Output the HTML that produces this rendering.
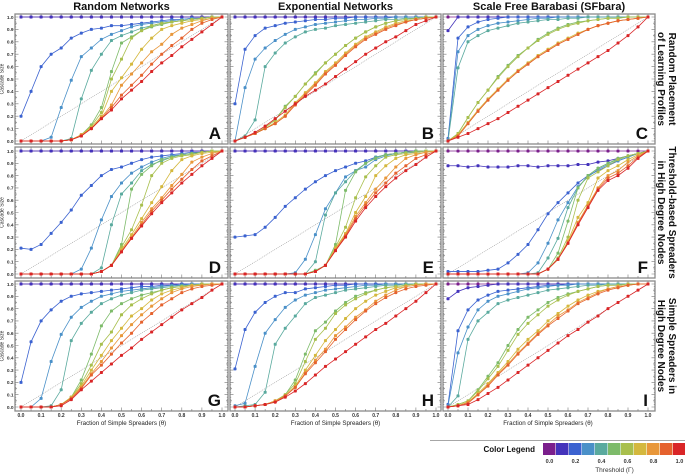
<!DOCTYPE html>
<html><head><meta charset="utf-8"><style>
html,body{margin:0;padding:0;background:#fff;}
svg{display:block;font-family:"Liberation Sans",sans-serif;}
</style></head><body>
<svg id="chart" width="685" height="475" viewBox="0 0 685 475" xmlns="http://www.w3.org/2000/svg"></svg>
<script>
const xValues=[0,0.05,0.1,0.15,0.2,0.25,0.3,0.35,0.4,0.45,0.5,0.55,0.6,0.65,0.7,0.75,0.8,0.85,0.9,0.95,1];
const thresholds=[0,0.1,0.2,0.3,0.4,0.5,0.6,0.7,0.8,0.9,1.0];
const thresholdColors=["#7b1f8c","#4433bb","#3b62d0","#4a90c8","#5aaa9e","#7dbb6a","#a8bf4d","#d4b83e","#e8973a","#e5622e","#d92527"];
const yTickLabels=["0.0","0.1","0.2","0.3","0.4","0.5","0.6","0.7","0.8","0.9","1.0"];
const xTickLabels=["0.0","0.1","0.2","0.3","0.4","0.5","0.6","0.7","0.8","0.9","1.0"];
const ONES=[1,1,1,1,1,1,1,1,1,1,1,1,1,1,1,1,1,1,1,1,1];
const panelA=[ONES,ONES,
[.2,.4,.6,.7,.75,.83,.87,.9,.91,.93,.93,.94,.95,.96,.97,.98,.98,.99,.99,1,1],
[0,0,0,.03,.27,.49,.68,.75,.82,.86,.89,.92,.94,.95,.96,.97,.98,.99,.99,1,1],
[0,0,0,0,0,.02,.34,.57,.70,.81,.85,.88,.91,.93,.95,.96,.97,.98,.99,1,1],
[0,0,0,0,0,.01,.05,.13,.27,.56,.79,.84,.89,.92,.94,.96,.97,.98,.99,1,1],
[0,0,0,0,0,.01,.05,.12,.23,.5,.66,.83,.89,.93,.95,.96,.97,.98,.99,1,1],
[0,0,0,0,0,.01,.05,.11,.2,.4,.51,.62,.74,.83,.9,.93,.95,.97,.98,.99,1],
[0,0,0,0,0,.01,.05,.1,.19,.29,.45,.54,.63,.72,.78,.86,.91,.94,.97,.99,1],
[0,0,0,0,0,.01,.04,.1,.18,.27,.37,.45,.53,.62,.7,.77,.83,.9,.95,.98,1],
[0,0,0,0,0,.01,.04,.1,.18,.25,.34,.41,.48,.56,.63,.69,.76,.82,.88,.94,1]];
const panelB=[ONES,ONES,
[.3,.74,.85,.91,.93,.95,.96,.97,.98,.98,.99,.99,1,1,1,1,1,1,1,1,1],
[0,.43,.66,.75,.81,.86,.9,.92,.94,.95,.96,.97,.98,.98,.99,.99,1,1,1,1,1],
[0,.04,.17,.6,.71,.79,.84,.88,.9,.91,.93,.94,.95,.96,.97,.98,.98,.99,.99,1,1],
[0,.03,.06,.11,.17,.28,.36,.46,.55,.63,.7,.77,.83,.88,.92,.95,.97,.98,.99,1,1],
[0,.03,.06,.11,.17,.27,.36,.46,.54,.63,.7,.77,.83,.88,.92,.95,.97,.98,.99,1,1],
[0,.03,.06,.1,.15,.21,.31,.39,.47,.56,.63,.71,.78,.84,.88,.92,.95,.97,.98,.99,1],
[0,.03,.06,.1,.14,.2,.3,.38,.46,.55,.62,.7,.77,.83,.87,.91,.94,.96,.98,.99,1],
[0,.03,.06,.1,.14,.2,.29,.37,.45,.54,.61,.69,.76,.82,.86,.9,.93,.96,.98,.99,1],
[0,.03,.07,.12,.18,.24,.3,.36,.41,.46,.52,.58,.64,.7,.75,.8,.84,.89,.94,.97,1]];
const panelC=[ONES,
[.89,1,1,1,1,1,1,1,1,1,1,1,1,1,1,1,1,1,1,1,1],
[.02,.83,.92,.96,.98,.99,1,1,1,1,1,1,1,1,1,1,1,1,1,1,1],
[.01,.72,.85,.9,.93,.95,.96,.97,.98,.99,.99,1,1,1,1,1,1,1,1,1,1],
[0,.59,.8,.85,.89,.91,.93,.95,.96,.97,.98,.98,.99,.99,1,1,1,1,1,1,1],
[0,.06,.19,.31,.41,.52,.61,.69,.75,.82,.87,.91,.94,.96,.97,.98,.99,.99,1,1,1],
[0,.06,.19,.31,.41,.51,.6,.68,.75,.81,.86,.9,.93,.95,.97,.98,.99,.99,1,1,1],
[0,.05,.15,.25,.34,.42,.5,.57,.63,.69,.74,.79,.83,.87,.9,.93,.95,.97,.98,.99,1],
[0,.04,.14,.24,.33,.41,.49,.56,.62,.68,.73,.78,.82,.86,.9,.93,.95,.97,.98,.99,1],
[0,.04,.14,.24,.33,.41,.49,.56,.62,.68,.73,.78,.82,.86,.9,.93,.95,.97,.98,.99,1],
[0,.03,.06,.1,.14,.18,.23,.28,.33,.38,.43,.48,.53,.58,.63,.68,.73,.79,.85,.92,1]];
const panelD=[ONES,ONES,
[.21,.2,.24,.33,.42,.52,.64,.72,.8,.85,.87,.9,.93,.95,.96,.97,.98,.99,.99,1,1],
[0,0,0,0,0,0,.04,.21,.44,.63,.74,.82,.87,.91,.94,.96,.97,.98,.99,1,1],
[0,0,0,0,0,0,0,0,.05,.4,.65,.74,.84,.89,.92,.95,.97,.98,.99,1,1],
[0,0,0,0,0,0,0,0,.02,.07,.24,.69,.81,.88,.93,.95,.97,.98,.99,1,1],
[0,0,0,0,0,0,0,0,.02,.07,.22,.36,.56,.8,.9,.94,.96,.97,.99,1,1],
[0,0,0,0,0,0,0,0,.02,.07,.2,.32,.45,.58,.71,.84,.93,.96,.98,.99,1],
[0,0,0,0,0,0,0,0,.02,.07,.19,.3,.42,.53,.62,.72,.81,.91,.95,.98,1],
[0,0,0,0,0,0,0,0,.02,.07,.18,.29,.4,.51,.6,.69,.77,.85,.92,.96,1],
[0,0,0,0,0,0,0,0,.02,.07,.18,.29,.39,.49,.58,.66,.74,.81,.88,.94,1]];
const panelE=[ONES,ONES,
[.3,.31,.32,.38,.46,.55,.62,.69,.75,.8,.84,.87,.9,.92,.95,.97,.98,.99,.99,1,1],
[0,0,0,0,0,0,.01,.12,.32,.53,.66,.79,.84,.87,.93,.96,.98,.99,.99,1,1],
[0,0,0,0,0,0,0,0,.1,.48,.66,.75,.84,.9,.95,.97,.98,.99,1,1,1],
[0,0,0,0,0,0,0,0,.03,.07,.24,.68,.83,.9,.94,.97,.98,.99,1,1,1],
[0,0,0,0,0,0,0,0,.02,.07,.22,.38,.62,.79,.88,.95,.97,.98,.99,1,1],
[0,0,0,0,0,0,0,0,.02,.07,.21,.33,.5,.63,.8,.88,.94,.97,.98,.99,1],
[0,0,0,0,0,0,0,0,.02,.07,.2,.32,.47,.58,.69,.78,.87,.94,.97,.99,1],
[0,0,0,0,0,0,0,0,.02,.07,.19,.31,.45,.56,.66,.74,.82,.88,.94,.97,1],
[0,0,0,0,0,0,0,0,.02,.07,.19,.3,.43,.54,.63,.71,.78,.84,.89,.95,1]];
const panelF=[ONES,
[.88,.88,.87,.88,.87,.87,.87,.88,.88,.87,.88,.88,.88,.89,.89,.91,.92,.94,.96,.98,1],
[.02,.02,.02,.02,.03,.04,.09,.16,.24,.36,.49,.58,.66,.74,.8,.84,.88,.92,.95,.98,1],
[0,0,0,0,0,0,0,0,.01,.09,.25,.44,.58,.71,.79,.85,.89,.92,.95,.98,1],
[0,0,0,0,0,0,0,0,0,.01,.13,.29,.54,.7,.8,.86,.9,.93,.96,.98,1],
[0,0,0,0,0,0,0,0,0,0,.04,.17,.43,.7,.8,.86,.9,.94,.96,.98,1],
[0,0,0,0,0,0,0,0,0,0,.04,.13,.3,.6,.78,.83,.88,.93,.96,.98,1],
[0,0,0,0,0,0,0,0,0,0,.04,.12,.27,.46,.58,.78,.84,.88,.93,.97,1],
[0,0,0,0,0,0,0,0,0,0,.04,.12,.26,.42,.56,.7,.8,.84,.91,.96,1],
[0,0,0,0,0,0,0,0,0,0,.04,.12,.25,.41,.55,.69,.78,.82,.88,.95,1],
[0,0,0,0,0,0,0,0,0,0,.04,.12,.25,.4,.54,.68,.76,.8,.86,.94,1]];
const panelG=[ONES,ONES,
[.2,.53,.7,.79,.86,.9,.92,.93,.94,.95,.96,.97,.98,.98,.99,.99,1,1,1,1,1],
[0,0,.07,.37,.59,.73,.81,.86,.9,.92,.94,.95,.96,.97,.98,.99,.99,1,1,1,1],
[0,0,0,.01,.14,.54,.68,.77,.84,.88,.91,.93,.95,.96,.97,.98,.99,.99,1,1,1],
[0,0,0,0,.02,.08,.22,.43,.66,.78,.84,.88,.91,.93,.95,.97,.98,.99,1,1,1],
[0,0,0,0,.02,.08,.19,.34,.51,.61,.75,.83,.88,.92,.95,.97,.98,.99,1,1,1],
[0,0,0,0,.02,.08,.17,.3,.42,.54,.64,.74,.8,.87,.92,.95,.97,.99,.99,1,1],
[0,0,0,0,.02,.07,.16,.27,.37,.48,.58,.67,.75,.82,.88,.93,.96,.98,.99,1,1],
[0,0,0,0,.02,.07,.15,.26,.34,.43,.52,.6,.69,.76,.83,.88,.93,.96,.98,.99,1],
[0,0,0,0,.01,.06,.14,.21,.28,.35,.42,.48,.55,.61,.67,.73,.79,.84,.89,.95,1]];
const panelH=[ONES,ONES,
[.31,.63,.77,.85,.9,.93,.93,.96,.97,.98,.99,.99,1,1,1,1,1,1,1,1,1],
[.01,.03,.33,.6,.71,.81,.87,.91,.93,.95,.96,.97,.98,.99,.99,1,1,1,1,1,1],
[0,.01,.02,.12,.51,.64,.74,.84,.89,.91,.93,.95,.96,.97,.98,.99,.99,1,1,1,1],
[0,0,.01,.02,.05,.1,.22,.43,.62,.69,.78,.85,.9,.93,.95,.97,.98,.99,1,1,1],
[0,0,.01,.02,.05,.1,.19,.37,.55,.64,.76,.83,.88,.92,.95,.97,.98,.99,1,1,1],
[0,0,.01,.02,.05,.09,.17,.3,.42,.54,.63,.72,.8,.86,.91,.94,.97,.98,.99,1,1],
[0,0,.01,.02,.05,.09,.16,.28,.38,.47,.58,.65,.73,.79,.86,.91,.95,.98,.99,1,1],
[0,0,.01,.02,.04,.09,.16,.27,.36,.45,.55,.63,.71,.78,.84,.89,.93,.96,.98,.99,1],
[0,0,.01,.02,.04,.08,.13,.19,.26,.33,.39,.45,.51,.57,.63,.68,.74,.8,.86,.93,1]];
const panelI=[ONES,
[.88,.94,.97,.98,.99,1,1,1,1,1,1,1,1,1,1,1,1,1,1,1,1],
[.02,.62,.79,.87,.91,.94,.95,.96,.97,.98,.99,.99,1,1,1,1,1,1,1,1,1],
[.01,.44,.65,.79,.86,.9,.92,.94,.96,.97,.98,.99,.99,1,1,1,1,1,1,1,1],
[0,.09,.55,.7,.77,.84,.87,.89,.91,.93,.95,.96,.97,.98,.99,.99,1,1,1,1,1],
[0,.02,.05,.14,.25,.36,.5,.63,.73,.79,.85,.89,.92,.94,.96,.98,.99,.99,1,1,1],
[0,.02,.05,.13,.23,.33,.46,.59,.68,.75,.82,.87,.91,.94,.96,.98,.99,.99,1,1,1],
[0,.01,.04,.11,.19,.28,.37,.47,.55,.62,.7,.76,.82,.87,.91,.94,.96,.98,.99,1,1],
[0,.01,.04,.1,.18,.27,.35,.44,.52,.6,.67,.74,.79,.85,.89,.93,.96,.98,.99,1,1],
[0,.01,.03,.1,.17,.26,.34,.43,.51,.59,.66,.72,.78,.84,.88,.92,.95,.97,.99,1,1],
[0,.01,.02,.06,.11,.16,.22,.28,.34,.4,.46,.52,.58,.63,.69,.74,.8,.85,.9,.95,1]];
const panelData=[panelA,panelB,panelC,panelD,panelE,panelF,panelG,panelH,panelI];
const panelLetters=["A","B","C","D","E","F","G","H","I"];
const columnTitles=["Random Networks","Exponential Networks","Scale Free Barabasi (SFbara)"];
const rowTitles=[["Random Placement","of Learning Profiles"],["Threshold-based Spreaders","in High Degree Nodes"],["Simple Spreaders in","High Degree Nodes"]];

const NS="http://www.w3.org/2000/svg";
const svg=document.getElementById('chart');
function mk(tag,attrs,parent){const e=document.createElementNS(NS,tag);for(const k in attrs)e.setAttribute(k,attrs[k]);(parent||svg).appendChild(e);return e;}
const cols=[{l:15,r:228,x0:21,x1:222},{l:230,r:441,x0:235,x1:436},{l:443,r:655,x0:448,x1:648}];
const rows=[{t:14,b:144,y1:17,y0:141},{t:147,b:278,y1:151,y0:274},{t:281,b:411,y1:284,y0:407}];

columnTitles.forEach((t,i)=>{const c=cols[i];
 const e=mk('text',{x:(c.l+c.r)/2,y:10,'text-anchor':'middle','font-size':'11','font-weight':'bold',fill:'#111'});e.textContent=t;
 
 });
rowTitles.forEach((lines,i)=>{const r=rows[i];const cy=(r.t+r.b)/2;
 const g=mk('g',{transform:`translate(668,${cy}) rotate(90)`});
 
 
 lines.forEach((ln,j)=>{const e=mk('text',{x:0,y:j*11-1,'text-anchor':'middle','font-size':'10','font-weight':'bold',fill:'#111'},g);e.textContent=ln;});});

for(let ri=0;ri<3;ri++)for(let ci=0;ci<3;ci++){
 const c=cols[ci],r=rows[ri],idx=ri*3+ci,data=panelData[idx];
 const g=mk('g',{});
 
 
 const sx=v=>c.x0+v*(c.x1-c.x0), sy=v=>r.y0-v*(r.y0-r.y1);
 mk('rect',{x:c.l,y:r.t,width:c.r-c.l,height:r.b-r.t,fill:'#fff',stroke:'#8a8a8a','stroke-width':'1.3'},g);
 let tk='';
 for(let k=0;k<=20;k++){const v=k/20;const L=k%2?2:3.5;
   tk+=`M${c.l},${sy(v)}h${L}M${c.r},${sy(v)}h${-L}M${sx(v)},${r.b}v${-L}M${sx(v)},${r.t}v${L}`;}
 for(let k=0;k<=50;k++){const v=k/50;tk+=`M${c.l},${sy(v)}h1.2M${c.r},${sy(v)}h-1.2`;}
 mk('path',{d:tk,stroke:'#777','stroke-width':'0.6',fill:'none'},g);
 if(ci===0){
  yTickLabels.forEach((t,k)=>{const e=mk('text',{x:c.l-1.5,y:sy(k/10)+1.8,'text-anchor':'end','font-size':'4.8','font-weight':'bold',fill:'#333'},g);e.textContent=t;});
  const yl=mk('text',{transform:`translate(3.5,${(r.t+r.b)/2}) rotate(-90)`,'text-anchor':'middle','font-size':'5',fill:'#222'},g);yl.textContent='Cascade Size';
  
  
 }
 if(ri===2){
  xTickLabels.forEach((t,k)=>{const e=mk('text',{x:sx(k/10),y:r.b+6,'text-anchor':'middle','font-size':'5','font-weight':'bold',fill:'#333'},g);e.textContent=t;});
  const xl=mk('text',{x:(c.x0+c.x1)/2,y:r.b+14,'text-anchor':'middle','font-size':'6.2',fill:'#222'},g);xl.textContent='Fraction of Simple Spreaders (θ)';
  
  
 }
 const dg=mk('line',{x1:sx(0),y1:sy(0),x2:sx(1),y2:sy(1),stroke:'#999','stroke-width':'0.6','stroke-dasharray':'1,1'},g);
 
 
 for(let s=0;s<data.length;s++){
  const col=thresholdColors[s];const ys=data[s];
  const sg=mk('g',{},g);
  
  
  mk('polyline',{points:xValues.map((x,k)=>sx(x)+','+sy(ys[k])).join(' '),fill:'none',stroke:col,'stroke-width':'0.8'},sg);
  xValues.forEach((x,k)=>{const p=mk('rect',{x:sx(x)-1.5,y:sy(ys[k])-1.5,width:3,height:3,rx:0.8,fill:col},sg);
   
   });
 }
 const lt=mk('text',{x:c.r-7,y:r.b-5,'text-anchor':'end','font-size':'17','font-weight':'bold',fill:'#111'},g);lt.textContent=panelLetters[idx];
 
 
}
const lg=mk('g',{});


mk('line',{x1:430,y1:440.5,x2:685,y2:440.5,stroke:'#888','stroke-width':'0.8'},lg);
const lt=mk('text',{x:535,y:452,'text-anchor':'end','font-size':'8','font-weight':'bold',fill:'#111'},lg);lt.textContent='Color Legend';
const sw=13, sx0=543;
thresholdColors.forEach((col,i)=>{const r=mk('rect',{x:sx0+i*sw,y:443,width:sw-0.5,height:12,fill:col},lg);
 
 });
[0,0.2,0.4,0.6,0.8,1.0].forEach(v=>{const i=Math.round(v*10);const e=mk('text',{x:sx0+i*sw+sw/2,y:463,'text-anchor':'middle','font-size':'5.5','font-weight':'bold',fill:'#333'},lg);e.textContent=v.toFixed(1);});
const tt=mk('text',{x:sx0+5.5*sw,y:472,'text-anchor':'middle','font-size':'6.5',fill:'#333'},lg);tt.textContent='Threshold (Γ)';


</script>
</body></html>
